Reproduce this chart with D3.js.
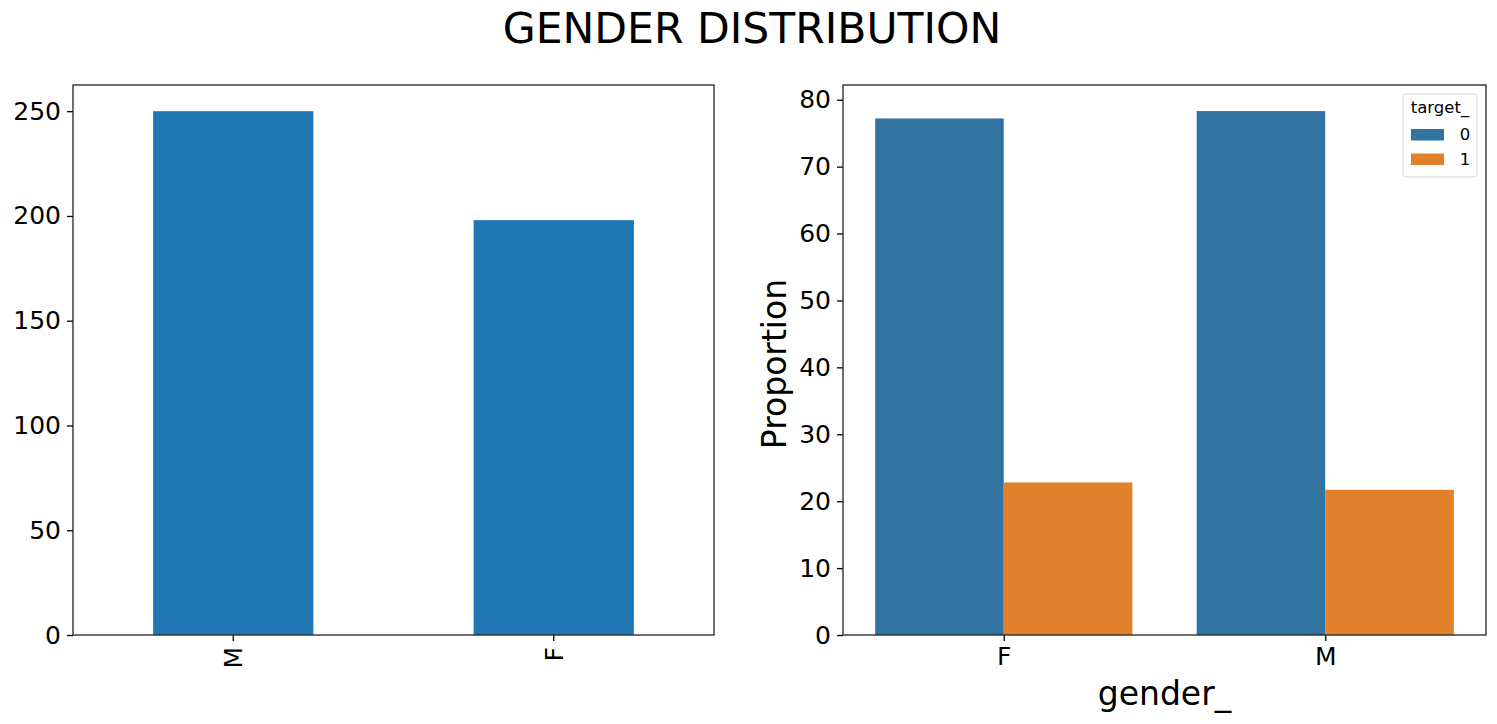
<!DOCTYPE html>
<html>
<head>
<meta charset="utf-8">
<script src="https://cdn.jsdelivr.net/npm/d3@7"></script>
<style>
  body { margin: 0; background: #fff; }
  text { font-family: "DejaVu Sans", sans-serif; fill: #000; }
</style>
</head>
<body>
<div id="chart"></div>
<script>
// left panel: counts per gender
const leftCats = ['M', 'F'];
const leftCounts = [250, 198];
const leftTicks = [0, 50, 100, 150, 200, 250];

// right panel: proportion of target_ within gender
const rightCats = ['F', 'M'];
const hues = ['0', '1'];
const prop0 = [77.2, 78.3];
const prop1 = [22.8, 21.7];
const rightTicks = [0, 10, 20, 30, 40, 50, 60, 70, 80];

const width = 1497, height = 724;
const plotTop = 85, plotBottom = 635;
const tickLen = 6, tickPad = 6;

const svg = d3.select('#chart').append('svg')
  .attr('width', width)
  .attr('height', height);

svg.append('text')
  .attr('x', 752)
  .attr('y', 43)
  .attr('text-anchor', 'middle')
  .style('font-size', '42.5px')
  .text('GENDER DISTRIBUTION');

function yAxis(g, y, ticks) {
  g.call(d3.axisLeft(y).tickValues(ticks).tickSize(tickLen).tickPadding(tickPad))
    .call(a => a.select('.domain').remove())
    .call(a => a.selectAll('line').attr('stroke', '#000').attr('stroke-width', 1.3))
    .call(a => a.selectAll('text').style('font-size', '25px').attr('fill', '#000'));
}

function frame(x0, x1) {
  svg.append('rect')
    .attr('x', x0).attr('y', plotTop)
    .attr('width', x1 - x0).attr('height', plotBottom - plotTop)
    .attr('fill', 'none')
    .attr('stroke', '#222')
    .attr('stroke-width', 1.3);
}

// ---- left panel ----
const lx = d3.scaleBand().domain(leftCats).range([73, 714]).paddingInner(0.5).paddingOuter(0.25);
const ly = d3.scaleLinear().domain([0, 262.5]).range([plotBottom, plotTop]);

svg.selectAll('rect.lbar')
  .data(leftCats)
  .enter()
  .append('rect')
  .attr('class', 'lbar')
  .attr('x', d => lx(d))
  .attr('y', (d, i) => ly(leftCounts[i]))
  .attr('width', lx.bandwidth())
  .attr('height', (d, i) => ly(0) - ly(leftCounts[i]))
  .attr('fill', '#1f77b4');

svg.append('g').attr('transform', 'translate(73,0)').call(yAxis, ly, leftTicks);

const lxa = svg.append('g').attr('transform', `translate(0,${plotBottom})`)
  .call(d3.axisBottom(lx).tickSize(tickLen).tickPadding(tickPad));
lxa.select('.domain').remove();
lxa.selectAll('line').attr('stroke', '#000').attr('stroke-width', 1.3);
lxa.selectAll('text')
  .style('font-size', '25px')
  .attr('fill', '#000')
  .attr('dy', null)
  .attr('y', 0)
  .attr('x', 0)
  .attr('text-anchor', 'end')
  .attr('transform', `translate(9,${tickLen + tickPad}) rotate(-90)`);

frame(73, 714);

// ---- right panel ----
const rx = d3.scaleBand().domain(rightCats).range([843, 1486]).paddingInner(0.2).paddingOuter(0.1);
const rh = d3.scaleBand().domain(hues).range([0, rx.bandwidth()]);
const ry = d3.scaleLinear().domain([0, 82.2]).range([plotBottom, plotTop]);
const hueColor = d3.scaleOrdinal().domain(hues).range(['#3274a1', '#e1812c']);

const series = [prop0, prop1];
hues.forEach((h, k) => {
  svg.selectAll(`rect.rbar${k}`)
    .data(rightCats)
    .enter()
    .append('rect')
    .attr('class', `rbar${k}`)
    .attr('x', d => rx(d) + rh(h))
    .attr('y', (d, i) => ry(series[k][i]))
    .attr('width', rh.bandwidth())
    .attr('height', (d, i) => ry(0) - ry(series[k][i]))
    .attr('fill', hueColor(h));
});

svg.append('g').attr('transform', 'translate(843,0)').call(yAxis, ry, rightTicks);

const rxa = svg.append('g').attr('transform', `translate(${rx.bandwidth() / 2},${plotBottom})`)
  .call(d3.axisBottom(d3.scalePoint().domain(rightCats).range([rx('F'), rx('M')]))
    .tickSize(tickLen).tickPadding(tickPad));
rxa.select('.domain').remove();
rxa.selectAll('line').attr('stroke', '#000').attr('stroke-width', 1.3);
rxa.selectAll('text').style('font-size', '25px').attr('fill', '#000');

svg.append('text')
  .attr('x', 1164.5)
  .attr('y', 705)
  .attr('text-anchor', 'middle')
  .style('font-size', '33px')
  .text('gender_');

svg.append('text')
  .attr('transform', 'translate(786,364) rotate(-90)')
  .attr('text-anchor', 'middle')
  .style('font-size', '33px')
  .text('Proportion');

frame(843, 1486);

// legend
const lg = svg.append('g').attr('transform', 'translate(1403,94)');
lg.append('rect')
  .attr('width', 74).attr('height', 83)
  .attr('rx', 3)
  .attr('fill', 'rgba(255,255,255,0.8)')
  .attr('stroke', '#d5d5d5');
lg.append('text')
  .attr('x', 37).attr('y', 19)
  .attr('text-anchor', 'middle')
  .style('font-size', '16.5px')
  .text('target_');
hues.forEach((h, k) => {
  lg.append('rect')
    .attr('x', 8).attr('y', 35 + k * 24.5)
    .attr('width', 33).attr('height', 11.5)
    .attr('fill', hueColor(h));
  lg.append('text')
    .attr('x', 62).attr('y', 46 + k * 24.5)
    .attr('text-anchor', 'middle')
    .style('font-size', '16.5px')
    .text(h);
});
</script>
</body>
</html>
